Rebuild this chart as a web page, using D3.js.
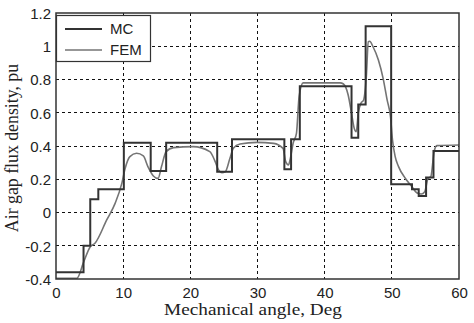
<!DOCTYPE html>
<html>
<head>
<meta charset="utf-8">
<script src="https://cdn.jsdelivr.net/npm/d3@7"></script>
<style>
  body { margin: 0; background: #fff; }
  svg { display: block; }
</style>
</head>
<body>
<svg id="chart" width="474" height="323"></svg>
<script>
// Tick values on both axes
const xTicks = [0, 10, 20, 30, 40, 50, 60];
const yTicks = [-0.4, -0.2, 0, 0.2, 0.4, 0.6, 0.8, 1, 1.2];

// MC model: piecewise-constant flux density, [angle where the level starts, level]
const mcSteps = [
  [0, -0.36], [4.1, -0.2], [5.1, 0.08], [6.3, 0.14], [10.1, 0.42],
  [14.1, 0.25], [16.4, 0.42], [24.0, 0.245], [26.2, 0.44], [34.0, 0.26],
  [35.0, 0.44], [36.3, 0.76], [44.0, 0.45], [45.0, 0.65], [46.1, 1.12],
  [49.9, 0.17], [53.0, 0.14], [54.0, 0.10], [55.1, 0.21], [56.2, 0.37]
];
const mcEnd = 60;

// FEM result: sampled flux density along the air gap
const femAngle = [
  0, 3.1, 4.1, 5.1, 5.8, 7.55, 8.8, 9.8, 10.3, 11.0, 12.0, 13.0, 13.7, 14.5, 15.2,
  15.7, 16.4, 17.5, 20.4, 22.9, 23.7, 24.2, 24.7, 25.2, 25.9, 26.4, 27.4, 29.9,
  32.4, 33.8, 34.2, 34.6, 34.9, 35.3, 35.8, 36.2, 36.8, 42.3, 42.8, 43.5, 44.0,
  44.4, 44.7, 45.0, 45.4, 45.8, 46.2, 46.5, 46.7, 47.2, 48.0, 48.7, 49.3, 49.8,
  50.1, 50.5, 51.0, 52.0, 53.0, 53.7, 54.4, 54.9, 55.4, 55.8, 56.3, 56.7, 60
];
const femValue = [
  -0.396, -0.396, -0.30, -0.206, -0.185, -0.045, 0.055, 0.175, 0.266, 0.336, 0.356,
  0.34, 0.275, 0.22, 0.205, 0.275, 0.366, 0.39, 0.396, 0.366, 0.306, 0.256, 0.24,
  0.245, 0.326, 0.386, 0.412, 0.422, 0.416, 0.386, 0.306, 0.286, 0.326, 0.416,
  0.476, 0.70, 0.78, 0.78, 0.773, 0.707, 0.597, 0.506, 0.486, 0.597, 0.657, 0.677,
  0.817, 1.027, 1.03, 0.997, 0.917, 0.807, 0.677, 0.576, 0.436, 0.336, 0.276,
  0.206, 0.155, 0.119, 0.111, 0.125, 0.206, 0.215, 0.366, 0.402, 0.406
];

const seriesNames = ["MC", "FEM"];

const svg = d3.select("#chart");
const plotL = 56, plotR = 459, plotT = 13, plotB = 279;

const x = d3.scaleLinear().domain([0, 60]).range([plotL, plotR]);
const y = d3.scaleLinear().domain([-0.4, 1.2]).range([plotB, plotT]);

// Dashed grid
const grid = svg.append("g").attr("stroke", "#111").attr("stroke-width", 1)
  .attr("stroke-dasharray", "3,3").attr("shape-rendering", "crispEdges");
grid.selectAll("line.v").data(xTicks.slice(1, -1)).join("line").attr("class", "v")
  .attr("x1", d => x(d)).attr("x2", d => x(d)).attr("y1", plotT).attr("y2", plotB);
grid.selectAll("line.h").data(yTicks.slice(1, -1)).join("line").attr("class", "h")
  .attr("x1", plotL).attr("x2", plotR).attr("y1", d => y(d)).attr("y2", d => y(d));

// Axes
const fmt = d => (d === 0 ? "0" : String(+d.toFixed(1)));
const xAxis = svg.append("g").attr("transform", `translate(0,${plotB})`)
  .call(d3.axisBottom(x).tickValues(xTicks).tickSize(0).tickPadding(8).tickFormat(d => d));
const yAxis = svg.append("g").attr("transform", `translate(${plotL},0)`)
  .call(d3.axisLeft(y).tickValues(yTicks).tickSize(0).tickPadding(5).tickFormat(fmt));
[xAxis, yAxis].forEach(a => {
  a.select(".domain").remove();
  a.selectAll("text").attr("font-family", "Liberation Sans, Arial, sans-serif")
    .attr("font-size", 15).attr("fill", "#222");
});
yAxis.selectAll("text").attr("dy", "0.36em");

// Series
const mcPts = [];
mcSteps.forEach((s, i) => {
  const end = i + 1 < mcSteps.length ? mcSteps[i + 1][0] : mcEnd;
  mcPts.push([s[0], s[1]], [end, s[1]]);
});
const femPts = femAngle.map((a, i) => [a, femValue[i]]);

svg.append("clipPath").attr("id", "plot")
  .append("rect").attr("x", plotL).attr("y", plotT).attr("width", plotR - plotL).attr("height", plotB - plotT);

svg.append("path").datum(femPts)
  .attr("d", d3.line().x(d => x(d[0])).y(d => y(d[1])).curve(d3.curveMonotoneX))
  .attr("fill", "none").attr("stroke", "#747474").attr("stroke-width", 1.6)
  .attr("clip-path", "url(#plot)");
svg.append("path").datum(mcPts)
  .attr("d", d3.line().x(d => x(d[0])).y(d => y(d[1])))
  .attr("fill", "none").attr("stroke", "#333").attr("stroke-width", 2)
  .attr("clip-path", "url(#plot)");

// Frame
svg.append("rect").attr("x", plotL).attr("y", plotT).attr("width", plotR - plotL).attr("height", plotB - plotT)
  .attr("fill", "none").attr("stroke", "#333").attr("stroke-width", 1.5);

// Legend
const lg = svg.append("g");
lg.append("rect").attr("x", 56.5).attr("y", 15.5).attr("width", 94).attr("height", 46)
  .attr("fill", "#fff").attr("stroke", "#333").attr("stroke-width", 1.2);
const legendStyles = [{ c: "#333", w: 2 }, { c: "#747474", w: 1.6 }];
seriesNames.forEach((n, i) => {
  const yy = 29 + i * 21;
  lg.append("line").attr("x1", 65).attr("x2", 102).attr("y1", yy).attr("y2", yy)
    .attr("stroke", legendStyles[i].c).attr("stroke-width", legendStyles[i].w);
  lg.append("text").attr("x", 110).attr("y", yy).attr("dy", "0.36em")
    .attr("font-family", "Liberation Sans, Arial, sans-serif").attr("font-size", 15)
    .attr("fill", "#222").text(n);
});

// Axis titles
svg.append("text").attr("transform", "translate(253,315) scale(1.1,1)").attr("text-anchor", "middle")
  .attr("font-family", "Liberation Serif, Times New Roman, serif").attr("font-size", 17.5)
  .attr("fill", "#222").text("Mechanical angle, Deg");
svg.append("text").attr("transform", "translate(18,148) rotate(-90)")
  .attr("text-anchor", "middle")
  .attr("font-family", "Liberation Serif, Times New Roman, serif").attr("font-size", 17.8)
  .attr("fill", "#222").text("Air gap flux density, pu");
</script>
</body>
</html>
